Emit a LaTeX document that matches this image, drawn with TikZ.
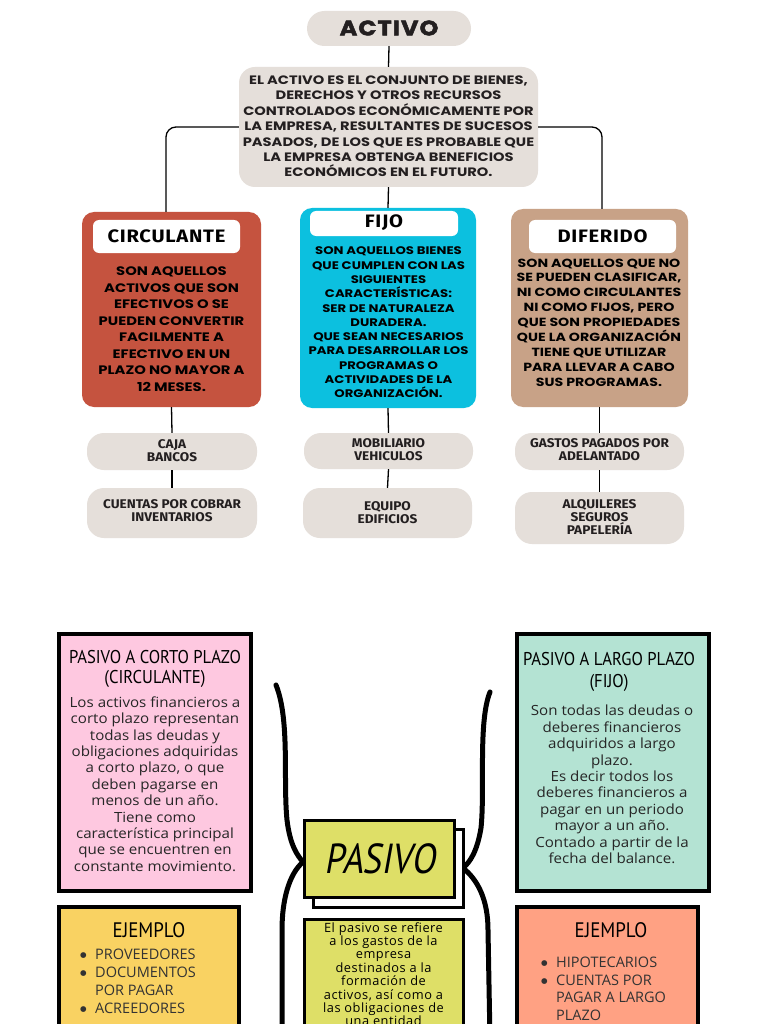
\documentclass[tikz,border=0pt]{standalone}
\usepackage{fontspec}
\setmainfont{Poppins}
\newfontfamily\montfont{Poppins}[FakeStretch=1.2]
\newfontfamily\pillfont{Fira Sans}[FakeStretch=1.08]
\newfontfamily\catfont{Fira Sans}[FakeStretch=1.12,LetterSpace=4]
\newfontfamily\bodyfont{Open Sans}[FakeStretch=1.08]
\newfontfamily\listfont{Open Sans}
\newfontfamily\symfont{DejaVu Sans}
\newfontfamily\handfont{PT Sans}[FakeStretch=0.9]
\newfontfamily\handslant{PT Sans}[FakeStretch=0.84,FakeSlant=0.18]
\newfontfamily\descfont{Open Sans}[LetterSpace=4]
\newfontfamily\titlefont{Poppins}[LetterSpace=5,FakeStretch=1.14,FakeBold=2.2]
\newcommand\mybul{\makebox[9pt][l]{\raisebox{2.2pt}{\symfont\fontsize{7.5}{8}\selectfont ●}}}
\newcommand\mynobul{\makebox[9pt][l]{}}
\usetikzlibrary{calc}
\definecolor{pillgray}{HTML}{E5DFDA}
\definecolor{brick}{HTML}{C5533F}
\definecolor{cyanbox}{HTML}{0CC0DF}
\definecolor{tanbox}{HTML}{C8A287}
\definecolor{pinkbox}{HTML}{FEC8E0}
\definecolor{mintbox}{HTML}{B4E3D3}
\definecolor{goldbox}{HTML}{F9D262}
\definecolor{salmonbox}{HTML}{FFA183}
\definecolor{pasivoyel}{HTML}{DEDF67}
\definecolor{ink}{HTML}{231F20}
\tikzset{
  conn/.style={draw=black, line width=1.3pt},
  pillbox/.style={fill=pillgray, draw=none, rounded corners=17, inner sep=0pt},
  catbox/.style={draw=none, rounded corners=12, inner sep=0pt},
  tagbox/.style={fill=white, draw=none, rounded corners=6, inner sep=0pt},
  card/.style={draw=black, line width=4pt, inner sep=0pt},
  pcard/.style={draw=black, line width=3pt, inner sep=0pt},
  brace/.style={draw=black, line width=5pt, line cap=round},
  toptext/.style={font=\montfont\bfseries\fontsize{12.2}{15.4}\selectfont, align=center, text=ink, inner sep=0pt},
  cattext/.style={font=\catfont\bfseries\fontsize{18}{20}\selectfont, text=black, inner sep=0pt},
  pilltext/.style={font=\pillfont\bfseries\fontsize{12.6}{13}\selectfont, align=center, text=ink, inner sep=0pt},
  handtext/.style={font=\handfont\fontsize{18.5}{19.5}\selectfont, align=center, text=black, inner sep=0pt},
  lowtext/.style={font=\bodyfont\fontsize{14}{16.4}\selectfont, align=center, text=black!85, inner sep=0pt},
  listtext/.style={font=\listfont\fontsize{14.5}{18}\selectfont, align=left, text=black!80, inner sep=0pt},
}
\begin{document}
\begin{tikzpicture}[x=1pt,y=-1pt]
\useasboundingbox[fill=white] (0,0) rectangle (768,1024);

% ---------- ACTIVO ----------
\node[pillbox, minimum width=164, minimum height=35, rounded corners=17.5] (activo) at (389,28.5) {};
\node[font=\titlefont\bfseries\fontsize{21}{24}\selectfont, text=ink, inner sep=0pt] (activot) at (389,28) {ACTIVO};
\node[pillbox, minimum width=299, minimum height=120, rounded corners=16] (desc) at (388.5,127) {};
\node[toptext] (desct) at (388.5,126.5) {EL ACTIVO ES EL CONJUNTO DE BIENES,\\DERECHOS Y OTROS RECURSOS\\CONTROLADOS ECONÓMICAMENTE POR\\LA EMPRESA, RESULTANTES DE SUCESOS\\PASADOS, DE LOS QUE ES PROBABLE QUE\\LA EMPRESA OBTENGA BENEFICIOS\\ECONÓMICOS EN EL FUTURO.};
\draw[conn] (activo.south) -- (desc.north);

% ---------- categories ----------
\node[catbox, fill=brick, minimum width=179, minimum height=195] (circ) at (171.5,309.5) {};
\node[catbox, fill=cyanbox, minimum width=176, minimum height=200] (fijo) at (388,308) {};
\node[catbox, fill=tanbox, minimum width=177, minimum height=198] (dif) at (599.5,308) {};

\coordinate (cl) at (166,212);
\coordinate (cr) at (602,209);
\draw[conn, rounded corners=10] (desc.west) -| (cl);
\draw[conn, rounded corners=10] (desc.east) -| (cr);
\draw[conn] (desc.south) -- (fijo.north);

\node[tagbox, minimum width=147, minimum height=33] (circtag) at (166.5,236.5) {};
\node[cattext] (circtagt) at (166.5,236) {CIRCULANTE};
\node[tagbox, minimum width=148, minimum height=25] (fijotag) at (384,223.5) {};
\node[cattext] (fijotagt) at (384,223) {FIJO};
\node[tagbox, minimum width=147, minimum height=33] (diftag) at (602.5,236.5) {};
\node[cattext] (diftagt) at (602.5,236) {DIFERIDO};

\node[toptext, font=\montfont\bfseries\fontsize{12.3}{16.5}\selectfont, text=black] (circt) at (171.5,329)
 {SON AQUELLOS\\ACTIVOS QUE SON\\EFECTIVOS O SE\\PUEDEN CONVERTIR\\FACILMENTE A\\EFECTIVO EN UN\\PLAZO NO MAYOR A\\12 MESES.};
\node[toptext, font=\montfont\bfseries\fontsize{11}{14.3}\selectfont, text=black] (fijot) at (388.5,322.5)
 {SON AQUELLOS BIENES\\QUE CUMPLEN CON LAS\\SIGUIENTES\\CARACTERÍSTICAS:\\SER DE NATURALEZA\\DURADERA.\\QUE SEAN NECESARIOS\\PARA DESARROLLAR LOS\\PROGRAMAS O\\ACTIVIDADES DE LA\\ORGANIZACIÓN.};
\node[toptext, font=\montfont\bfseries\fontsize{11.8}{14.9}\selectfont, text=black] (dift) at (599,322.5)
 {SON AQUELLOS QUE NO\\SE PUEDEN CLASIFICAR,\\NI COMO CIRCULANTES\\NI COMO FIJOS, PERO\\QUE SON PROPIEDADES\\QUE LA ORGANIZACIÓN\\TIENE QUE UTILIZAR\\PARA LLEVAR A CABO\\SUS PROGRAMAS.};

% ---------- pills ----------
\node[pillbox, minimum width=170, minimum height=37] (caja) at (172,451.5) {};
\node[pilltext] (cajat) at (172,450.5) {CAJA\\BANCOS};
\node[pillbox, minimum width=170, minimum height=50] (cuentas) at (172,513) {};
\node[pilltext] (cuentast) at (172,511) {CUENTAS POR COBRAR\\INVENTARIOS};
\node[pillbox, minimum width=169, minimum height=36] (mob) at (388.5,451) {};
\node[pilltext] (mobt) at (388.5,450) {MOBILIARIO\\VEHICULOS};
\node[pillbox, minimum width=169, minimum height=50] (equipo) at (387.5,513) {};
\node[pilltext] (equipot) at (387.5,512.5) {EQUIPO\\EDIFICIOS};
\node[pillbox, minimum width=169, minimum height=37] (gastos) at (599.5,451.5) {};
\node[pilltext] (gastost) at (599.5,450) {GASTOS PAGADOS POR\\ADELANTADO};
\node[pillbox, minimum width=169, minimum height=52] (alq) at (599.5,518) {};
\node[pilltext] (alqt) at (599.5,517) {ALQUILERES\\SEGUROS\\PAPELERÍA};

\draw[conn] (circ.south) -- (caja.north);
\draw[conn] (caja.south) -- (cuentas.north);
\draw[conn] (fijo.south) -- (mob.north);
\draw[conn] (mob.south) -- (equipo.north);
\draw[conn] (dif.south) -- (gastos.north);
\draw[conn] (gastos.south) -- (alq.north);

% ---------- PASIVO section: braces ----------
\coordinate (lt) at (276,685);
\coordinate (ltip) at (303,862);
\coordinate (lb) at (282,1040);
\coordinate (rt) at (490,692);
\coordinate (rtip) at (463,868);
\coordinate (rb) at (490,1040);
\draw[brace] (lt) .. controls (290,720) and (283,780) .. (287,820) .. controls (290,845) and (297,855) .. (ltip);
\draw[brace] (ltip) .. controls (289,874) and (282,900) .. (282,930) -- (lb);
\draw[brace] (rt) .. controls (478,722) and (485,790) .. (481,828) .. controls (477,852) and (470,862) .. (rtip);
\draw[brace] (rtip) .. controls (478,880) and (488,900) .. (488,930) -- (rb);

% ---------- cards ----------
\node[card, fill=pinkbox, minimum width=192, minimum height=257] (corto) at (155,762.5) {};
\node[handtext] (cortoh) at (155,669) {PASIVO A CORTO PLAZO\\(CIRCULANTE)};
\node[lowtext] (cortot) at (155,784) {Los activos financieros a\\corto plazo representan\\todas las deudas y\\obligaciones adquiridas\\a corto plazo, o que\\deben pagarse en\\menos de un año.\\Tiene como\\característica principal\\que se encuentren en\\constante movimiento.};

\node[card, fill=mintbox, minimum width=192, minimum height=257] (largo) at (613,762.5) {};
\node[handtext, font=\handfont\fontsize{18.5}{22}\selectfont] (largoh) at (609,672) {PASIVO A LARGO PLAZO\\(FIJO)};
\node[lowtext] (largot) at (612,784.5) {Son todas las deudas o\\deberes financieros\\adquiridos a largo\\plazo.\\Es decir todos los\\deberes financieros a\\pagar en un periodo\\mayor a un año.\\Contado a partir de la\\fecha del balance.};

\node[card, fill=goldbox, minimum width=180, minimum height=140] (ej1) at (149,977) {};
\node[handtext, font=\handfont\fontsize{21}{22}\selectfont] (ej1h) at (149,930) {EJEMPLO};
\node[listtext, anchor=north west] (ej1t) at (80,949) {\mybul\hspace{6pt}PROVEEDORES\\\mybul\hspace{6pt}DOCUMENTOS\\\mynobul\hspace{6pt}POR PAGAR\\\mybul\hspace{6pt}ACREEDORES};

\node[card, fill=salmonbox, minimum width=181, minimum height=140] (ej2) at (607.5,977) {};
\node[handtext, font=\handfont\fontsize{21}{22}\selectfont] (ej2h) at (611,930) {EJEMPLO};
\node[listtext, anchor=north west, font=\listfont\fontsize{14.5}{17.5}\selectfont] (ej2t) at (541,957) {\mybul\hspace{6pt}HIPOTECARIOS\\\mybul\hspace{6pt}CUENTAS POR\\\mynobul\hspace{6pt}PAGAR A LARGO\\\mynobul\hspace{6pt}PLAZO};

% ---------- PASIVO ----------
\node[pcard, fill=white, minimum width=150, minimum height=78] (pshadow) at (388,868.5) {};
\node[pcard, fill=pasivoyel, minimum width=150, minimum height=77] (pasivo) at (379,858.5) {};
\node[font=\handslant\fontsize{42}{44}\selectfont, inner sep=0pt] (pasivot) at (380,859) {PASIVO};
\node[pcard, fill=pasivoyel, minimum width=159, minimum height=130, anchor=north] (pdesc) at (383.5,918) {};
\node[font=\descfont\fontsize{12.8}{13.4}\selectfont, align=center, anchor=north, inner sep=0pt] (pdesct) at (383.5,922)
 {El pasivo se refiere\\a los gastos de la\\empresa\\destinados a la\\formación de\\activos, así como a\\las obligaciones de\\una entidad};
\end{tikzpicture}
\end{document}
